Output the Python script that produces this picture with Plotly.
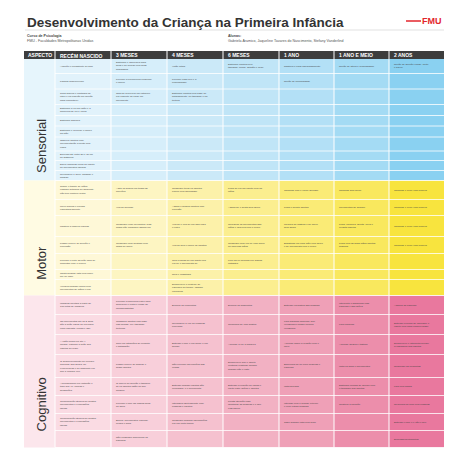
import plotly.graph_objects as go

# --- dados da tabela ---
titulo = "Desenvolvimento da Criança na Primeira Infância"
curso = "Curso de Psicologia"
faculdade = "FMU - Faculdades Metropolitanas Unidas"
alunas = "Gabriela Aramico, Jaqueline Tavares do Nascimento, Stefany Vanderlind"

colunas = ["ASPECTO", "RECÉM NASCIDO", "3 MESES", "4 MESES", "6 MESES", "1 ANO", "1 ANO E MEIO", "2 ANOS"]
aspectos = ["Sensorial", "Motor", "Cognitivo"]

sensorial = [
    ["Audição é persistente ao som", "Distingue e diferencia mais sons e de acordo com suas qualidades", "Visão nítida", "Distingue objetos pelo tamanho, forma, aptidão e peso", "Rastreia o olhar adequadamente", "Noção de altura e profundidade", "Noção de direção (longe, perto e baixo)"],
    ["Paladar desenvolvido", "Percebe a preferência conforme o cheiro", "Percebe olhar fixo e a profundidade", "", "Noção de profundidade", "", ""],
    ["Sons suaves e cantados de ritmo e na posição da canção mais confortável", "Olha se moverem em estímulo por respeito ao olhar em movimento", "Distingue objetos com base no detalhamento, no tamanho e na textura", "", "", "", ""],
    ["Distingue a luz da visão e a diferença de luz e cores", "", "", "", "", "", ""],
    ["Distingue sabores", "", "", "", "", "", ""],
    ["Distingue e percebe o cheiro da mãe", "", "", "", "", "", ""],
    ["Observa objetos com movimentação à frente dos olhos", "", "", "", "", "", ""],
    ["Enxerga até entre 20 e 30 cm de distância", "", "", "", "", "", ""],
    ["Difere algumas cores do objeto de movimentos rápidos", "", "", "", "", "", ""],
    ["Reconhece o doce, salgado e amargo", "", "", "", "", "", ""],
]
motor = [
    ["Segue o trajeto de mãos, olhando detalhes do ambiente, não tem controle motor", "Agita os braços em todas as direções", "Consegue tocar os objetos, porém com dificuldade", "Pega-se em um objeto com as mãos", "Caminha com o corpo apoiado", "Caminha sem apoio", "Caminha e corre com firmeza"],
    ["Move braços e pernas espontaneamente", "Vira-se sozinho", "Agarra e segura objetos com precisão", "Agarra-se e senta sem apoio", "Pega e aperta objetos", "Movimentos de alcance", "Caminha e corre com firmeza"],
    ["Mantém a cabeça erguida", "Consegue rolar os objetos, mas ainda não consegue agarrá-los", "Vira-se e rola de um lado para o outro", "Coordena os movimentos das mãos e dos pés com o corpo", "Melhora ao rastejar e se move sem ajuda", "Pega, empurra, aperta, puxa e levanta objetos", "Caminha e corre com firmeza"],
    ["Possui reflexo de sucção e preensão", "Consegue ficar sentado com ajuda de apoio", "Vira-se sem o apoio de adultos", "Consegue ficar em pé com apoio de uma das mãos", "Engatinha em uma mão com apoio e se movimenta com o corpo", "Pega com as duas mãos objetos grandes", "Caminha e corre com firmeza"],
    ["Procura o peito da mãe para se alimentar com o reflexo", "", "Com a ajuda de um adulto fica em pé e movimenta-se", "Fica em pé sozinho por alguns instantes", "", "", ""],
    ["Chuta quando está com fome, frio ou calor", "", "Rola e engatinha", "", "", "", ""],
    ["Vocaliza quando chora com movimentos de mãos e pés", "", "Desenvolve o controle de equilíbrio do tronco, usando os braços", "", "", "", ""],
]
cognitivo = [
    ["Imagens mentais a partir de 100 fotos de imagens", "Percebe a diferença entre uma superfície e outra e reage de formas distintas", "Explora os elementos", "Explora os ambientes", "Entende os gestos das pessoas", "Interpreta o significado das palavras e das ações", "Associa as palavras"],
    ["Os movimentos até os 2 anos são a ação capaz de perceber uma resposta, pensa e age", "Classifica objetos com base nas formas, cor, tamanho, texturas", "Reconhece a voz de pessoas próximas", "Comunica-se com gestos", "Fala algumas palavras. Seu vocabulário possui poucos vocábulos", "Fala palavras", "Entende a forma de esconder o objeto com mais complexidade"],
    ["A visão ficará por até 4 meses, entende a ação dos objetos ao redor", "Sorri em situações de conforto e satisfação", "Entende o que é um nome e um sorriso", "Aprende a ver a maneira", "Aprende sobre a relação com o meio", "Aprende alegria e tristeza", "Desenvolve e interpreta melhor a linguagem dos adultos"],
    ["O desenvolvimento do cérebro depende dos genes, de experiências e do ambiente em que a criança vive", "Possui reflexo de agarrar e sugar objetos", "Não percebe as relações das coisas", "Desenvolve que o objeto continua existindo mesmo quando não é visto", "Emociona-se ao ouvir músicas e palavras", "Imita os sons e movimentos", "Responde às perguntas"],
    ["Aprendizagem por imitação e tudo que vê, formas e sensações", "O reflexo de sucção e também se os objetos estão ao seu alcance", "Entende quando objetos são colocados, ri e movimenta", "Entende a relação de causa e efeito entre ações e objetos", "Imita sorrisos", "Distingue formas de acordo com o tamanho dos objetos", "Fala com frases"],
    ["Comunicação através de gestos, movimentos e expressões faciais", "Percebe o que faz alguns sons de amor", "Interagem afetivamente com pessoas e objetos", "Presta atenção para identificar as pessoas e o que elas fazem", "Interage com o mundo exterior e com outras pessoas", "Controla a emoção", "Relaciona-se bem com pessoas"],
    ["Comunicação através de gestos, movimentos e expressões faciais", "Brinca, movimentos, barulho, ruídos e sons", "Consegue guardar informações por um curto tempo", "", "Sabe quando está com fome", "", "Entende o que é e não é seu"],
    ["", "Não consegue diferenciar os barulhos", "", "", "", "", "Expressa sentimentos"],
]
secoes = [sensorial, motor, cognitivo]

# alturas relativas das linhas (px)
alt_sensorial = [14.5, 15.5, 15.5, 11, 10.5, 11, 14, 9.5, 10, 10]
alt_motor = [19, 16, 21, 17, 16, 10, 16]
alt_cognitivo = [19, 20, 20, 23, 18, 18, 17, 17]
alturas = [alt_sensorial, alt_motor, alt_cognitivo]

cores = [
    ["#e6f5fc", "#e1f2fb", "#d6eefa", "#cbe9f8", "#c0e5f7", "#b3e0f6", "#a4dbf4", "#8ad1f1"],
    ["#fffbe3", "#fef8d7", "#fdf5c2", "#fcf1a9", "#fbee8f", "#faeb76", "#f9e85e", "#f8e43e"],
    ["#fce6ec", "#fadbe3", "#f8cfda", "#f5c1cf", "#f2b1c3", "#efa0b7", "#ec8eab", "#e9789e"],
]

# --- layout ---
xs = [16, 47, 103, 159, 215, 271, 326, 381, 436]
y_top = 51


def quebra(t, n=30):
    palavras = t.split()
    linhas, atual = [], ""
    for p in palavras:
        if len(atual) + len(p) + 1 > n and atual:
            linhas.append(atual)
            atual = p
        else:
            atual = (atual + " " + p).strip()
    if atual:
        linhas.append(atual)
    return "<br>".join(linhas)


fig = go.Figure()
shapes = []
ann = []

# cabeçalho
shapes.append(dict(type="rect", x0=xs[0], x1=xs[-1], y0=43, y1=y_top, fillcolor="#3d3d3d", line_width=0))
for i, c in enumerate(colunas):
    ann.append(dict(x=xs[i] + 3 if i else (xs[0] + xs[1]) / 2, y=47, text="<b>" + c + "</b>",
                    xanchor="left" if i else "center", font=dict(size=5, color="white", family="Liberation Sans")))
for x in xs[1:-1]:
    shapes.append(dict(type="line", x0=x, x1=x, y0=43, y1=y_top, line=dict(color="white", width=1)))

y = y_top
for s, linhas in enumerate(secoes):
    y_sec = y
    total = sum(alturas[s])
    for j in range(8):
        shapes.append(dict(type="rect", x0=xs[j], x1=xs[j + 1], y0=y_sec, y1=y_sec + total,
                           fillcolor=cores[s][j], line_width=0, layer="below"))
    ann.append(dict(x=(xs[0] + xs[1]) / 2 + 2, y=y_sec + total * 0.72, text=aspectos[s], textangle=-90,
                    font=dict(size=13, color="#333333", family="Liberation Sans"), showarrow=False))
    for r, linha in enumerate(linhas):
        h = alturas[s][r]
        for k, t in enumerate(linha):
            if t:
                ann.append(dict(x=xs[k + 1] + 3, y=y + h / 2, text=quebra(t), xanchor="left", align="left",
                                font=dict(size=2.5, color="#444444", family="Liberation Sans")))
        y += h
        shapes.append(dict(type="line", x0=xs[1], x1=xs[-1], y0=y, y1=y, line=dict(color="white", width=0.8)))
    for x in xs[1:-1]:
        shapes.append(dict(type="line", x0=x, x1=x, y0=y_sec, y1=y, line=dict(color="white", width=1)))

# títulos
ann += [
    dict(x=17, y=14, text="<b>" + titulo + "</b>", xanchor="left", font=dict(size=13.5, color="#333333", family="Liberation Sans")),
    dict(x=436, y=13, text="<b>FMU</b>", xanchor="right", font=dict(size=9, color="#e3262d", family="Liberation Sans")),
    dict(x=17, y=28, text="<b>" + curso + "</b>", xanchor="left", font=dict(size=3.6, color="#444444", family="Liberation Sans")),
    dict(x=17, y=32.5, text=faculdade, xanchor="left", font=dict(size=3.6, color="#555555", family="Liberation Sans")),
    dict(x=218, y=28, text="<b>Alunas:</b>", xanchor="left", font=dict(size=3.6, color="#444444", family="Liberation Sans")),
    dict(x=218, y=32.5, text=alunas, xanchor="left", font=dict(size=3.6, color="#555555", family="Liberation Sans")),
]
shapes.append(dict(type="line", x0=17, x1=436, y0=22, y1=22, line=dict(color="#cccccc", width=0.6)))
shapes.append(dict(type="line", x0=398, x1=413, y0=13, y1=13, line=dict(color="#e3262d", width=1.5)))

for a in ann:
    a.setdefault("showarrow", False)
    a.setdefault("xanchor", "center")
    a["yanchor"] = "middle"

fig.update_layout(
    width=452, height=452, margin=dict(l=0, r=0, t=0, b=0),
    paper_bgcolor="white", plot_bgcolor="white",
    xaxis=dict(range=[0, 452], visible=False, fixedrange=True),
    yaxis=dict(range=[452, 0], visible=False, fixedrange=True),
    shapes=shapes, annotations=ann, showlegend=False,
)
fig.write_html("out.html", config={"displayModeBar": False})
